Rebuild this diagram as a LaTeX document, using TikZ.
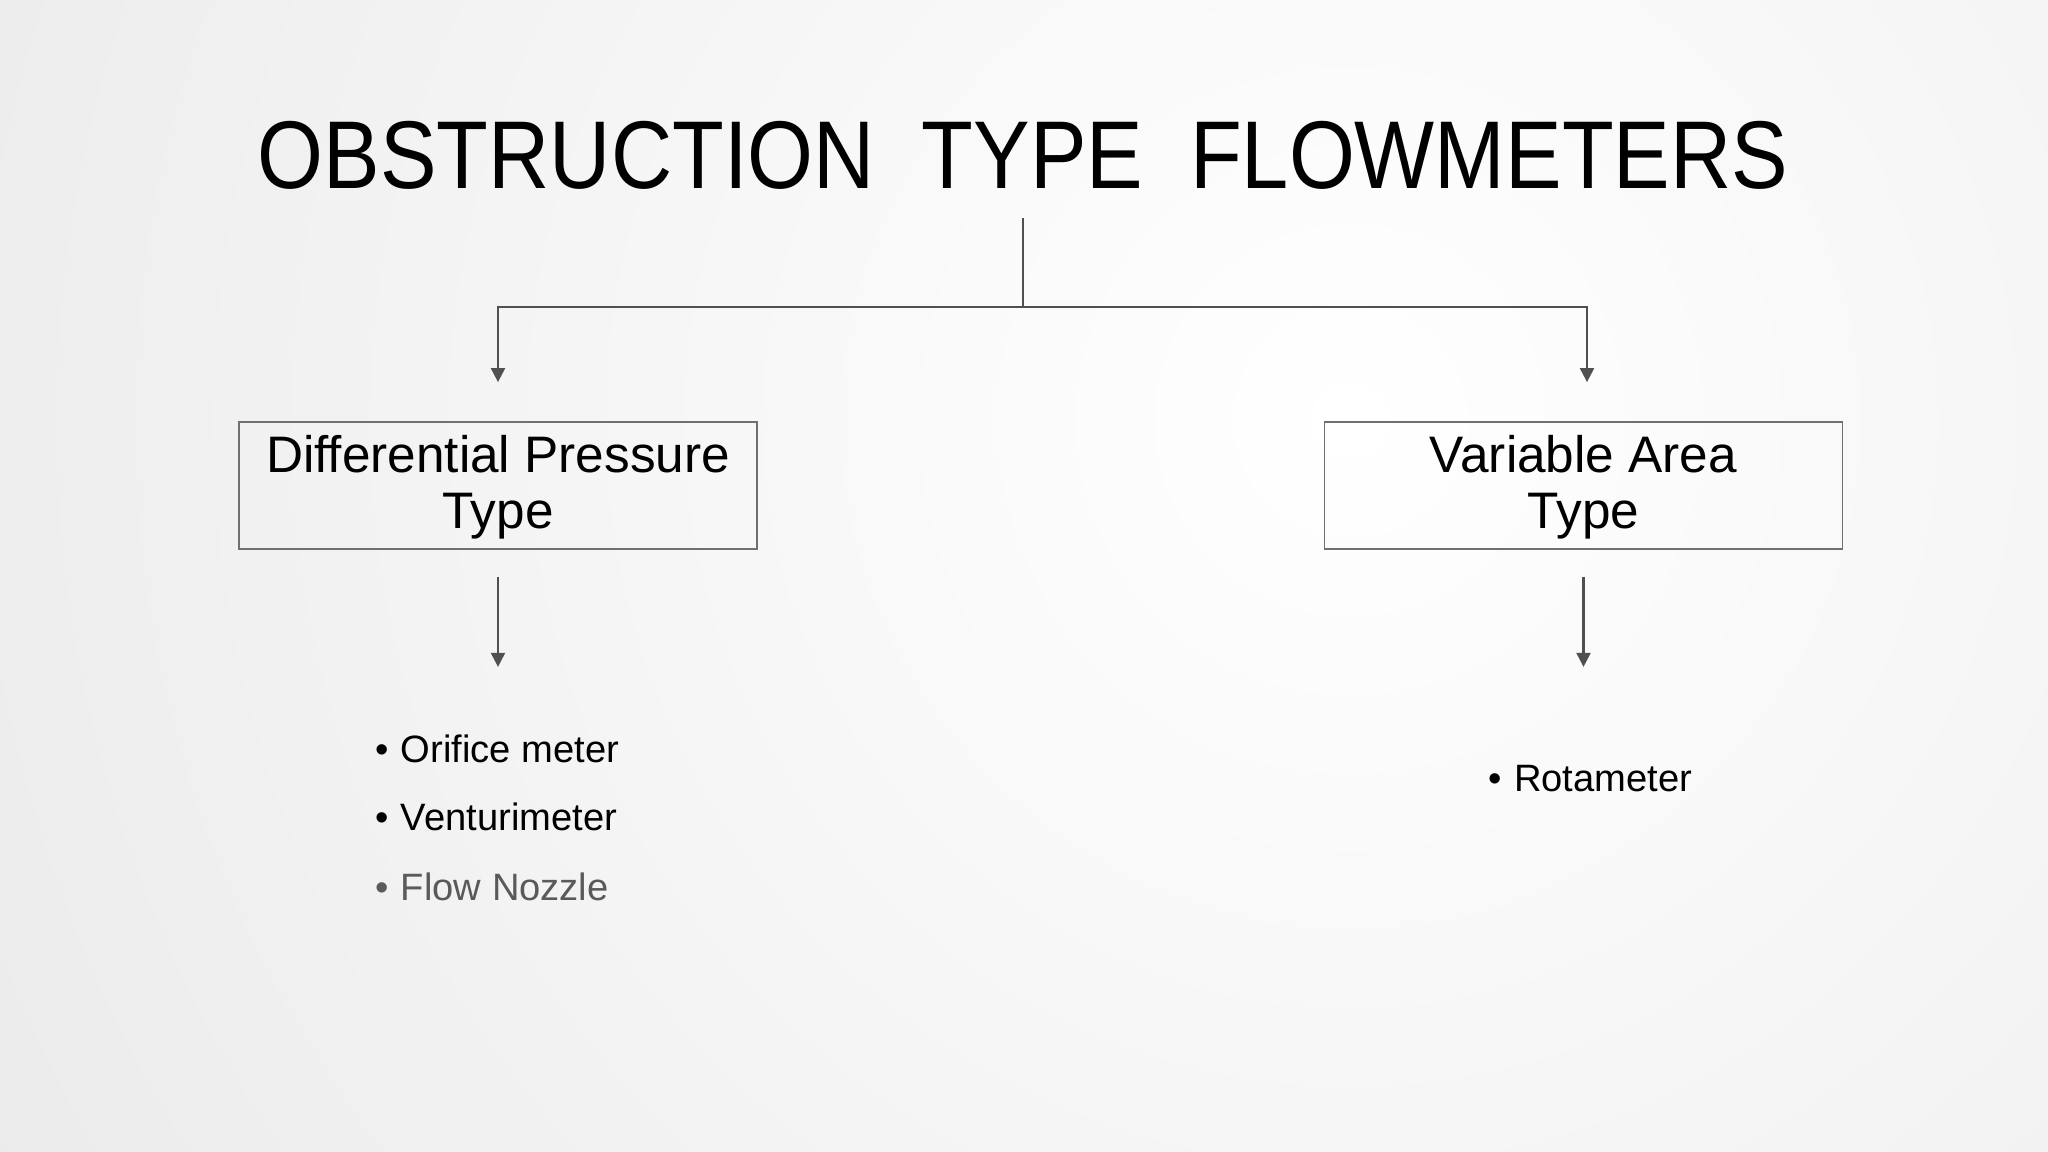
\documentclass[tikz,border=0pt]{standalone}
\usepackage{fontspec}
\setmainfont{Liberation Sans}
\usetikzlibrary{arrows.meta, positioning}

\definecolor{linkgray}{HTML}{505050}
\definecolor{boxgray}{HTML}{707070}
\definecolor{itemgray}{HTML}{5A5A5A}

\begin{document}
\begin{tikzpicture}[x=0.1mm, y=-0.1mm, >={Triangle[length=4pt,width=4pt]}]
    \tikzstyle{headline}=[anchor=base, inner sep=0pt,
                       font=\fontsize{27.4}{30}\selectfont]
    \tikzstyle{typebox}=[draw=boxgray, line width=0.5pt,
                       minimum width=51.8mm, minimum height=12.7mm,
                       align=center, inner sep=0pt, text depth=0.8mm,
                       font=\fontsize{14.6}{15.9}\selectfont]
    \tikzstyle{item}=[anchor=base west, inner sep=0pt,
                       font=\fontsize{10.85}{12}\selectfont]
    \tikzstyle{link}=[->, draw=linkgray, line width=0.6pt]

    % slide background
    \useasboundingbox (0,0) rectangle (2048,1152);
    \fill[gray!20] (0,0) rectangle (2048,1152);
    \begin{scope}
      \clip (0,0) rectangle (2048,1152);
      \shade[inner color=white, outer color=gray!20] (1350,420) circle (200mm);
    \end{scope}

    \node[headline] (title) at (1023,189)
        {\scalebox{0.88}[1]{OBSTRUCTION\ \ TYPE\ \ FLOWMETERS}};

    \node[typebox] (dp) at (498,485.5) {Differential Pressure\\Type};
    \node[typebox] (va) at (1583.5,485.5) {Variable Area\\Type};

    \coordinate (stem)  at (1023,218);
    \coordinate (split) at (1023,307);

    \draw[link,-] (stem) -- (split);
    \draw[link] (split) -| ([yshift=3.9mm]dp.north);
    \draw[link] (split) -| ([yshift=3.9mm,xshift=0.35mm]va.north);
    \draw[link] ([yshift=-2.7mm]dp.south) -- ([yshift=-11.7mm]dp.south);
    \draw[link] ([yshift=-2.7mm]va.south) -- ([yshift=-11.7mm]va.south);

    \node[item] (orifice) at (375,763) {\textbullet\hspace{3.4pt}Orifice meter};
    \node[item] (venturi) at (375,831) {\textbullet\hspace{3.4pt}Venturimeter};
    \node[item, text=itemgray] (nozzle) at (375,901) {\textbullet\hspace{3.4pt}Flow Nozzle};
    \node[item] (rota) at (1488,792) {\textbullet\hspace{3.4pt}Rotameter};
\end{tikzpicture}
\end{document}
